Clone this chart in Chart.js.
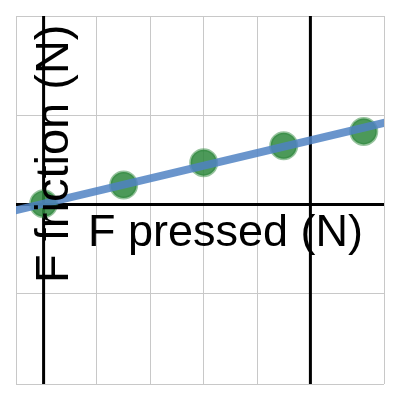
<!DOCTYPE html>
<html>
<head>
<script src="https://cdn.jsdelivr.net/npm/chart.js@4"></script>
<style>html,body{margin:0;padding:0;background:#fff}#c{width:400px;height:400px}</style>
</head>
<body>
<div id="c"><canvas id="chart" width="400" height="400"></canvas></div>
<script>
// measured points (F pressed, F friction)
const pressed = [0, 1.5, 3, 4.5, 6];
const friction = [0.01, 0.22, 0.47, 0.66, 0.82];
// fitted line endpoints
const fitX = [-0.6, 6.5];
const fitY = [0.01 + 0.142 * -0.6, 0.01 + 0.142 * 6.5];

const xLabel = 'F pressed (N)';
const yLabel = 'F friction (N)';

const axesAndText = {
    id: 'axesAndText',
    beforeDatasetsDraw(chart) {
        const { ctx, chartArea: a, scales: { x, y } } = chart;
        ctx.save();
        ctx.strokeStyle = '#000';
        ctx.lineWidth = 3;
        [0, 5].forEach(v => {
            const px = x.getPixelForValue(v);
            ctx.beginPath(); ctx.moveTo(px, a.top); ctx.lineTo(px, a.bottom); ctx.stroke();
        });
        const py = y.getPixelForValue(0);
        ctx.beginPath(); ctx.moveTo(a.left, py); ctx.lineTo(a.right, py); ctx.stroke();
        ctx.restore();
    },
    afterDraw(chart) {
        const { ctx } = chart;
        ctx.save();
        ctx.fillStyle = '#000';
        ctx.textBaseline = 'alphabetic';
        ctx.font = '45px "Liberation Sans", Arial, sans-serif';
        ctx.fillText(xLabel, 88, 246);
        ctx.translate(68, 283);
        ctx.rotate(-Math.PI / 2);
        ctx.font = '47px "Liberation Sans", Arial, sans-serif';
        ctx.fillText(yLabel, 0, 0);
        ctx.restore();
    }
};

new Chart(document.getElementById('chart'), {
    type: 'scatter',
    data: {
        datasets: [{
            type: 'line',
            data: fitX.map((v, i) => ({ x: v, y: fitY[i] })),
            borderColor: 'rgba(80,130,195,0.85)',
            borderWidth: 8,
            pointRadius: 0
        }, {
            data: pressed.map((v, i) => ({ x: v, y: friction[i] })),
            backgroundColor: 'rgba(45,135,60,0.85)',
            borderColor: 'rgba(45,135,60,0.5)',
            borderWidth: 3,
            pointRadius: 13
        }]
    },
    options: {
        responsive: false,
        animation: false,
        layout: { padding: 0 },
        plugins: { legend: { display: false }, tooltip: { enabled: false } },
        scales: {
            x: {
                type: 'linear', min: -30 / 58, max: 370 / 58,
                ticks: { display: false, stepSize: 1 },
                grid: { color: '#c8c8c8', lineWidth: 1, drawTicks: false },
                border: { display: false },
                afterFit(s) { s.height = 0; s.paddingLeft = 0; s.paddingRight = 0; }
            },
            y: {
                type: 'linear', min: -195 / 97, max: 205 / 97,
                ticks: { display: false, stepSize: 1 },
                grid: { color: '#c8c8c8', lineWidth: 1, drawTicks: false },
                border: { display: false },
                afterFit(s) { s.width = 0; s.paddingTop = 0; s.paddingBottom = 0; }
            }
        }
    },
    plugins: [axesAndText]
});
</script>
</body>
</html>
